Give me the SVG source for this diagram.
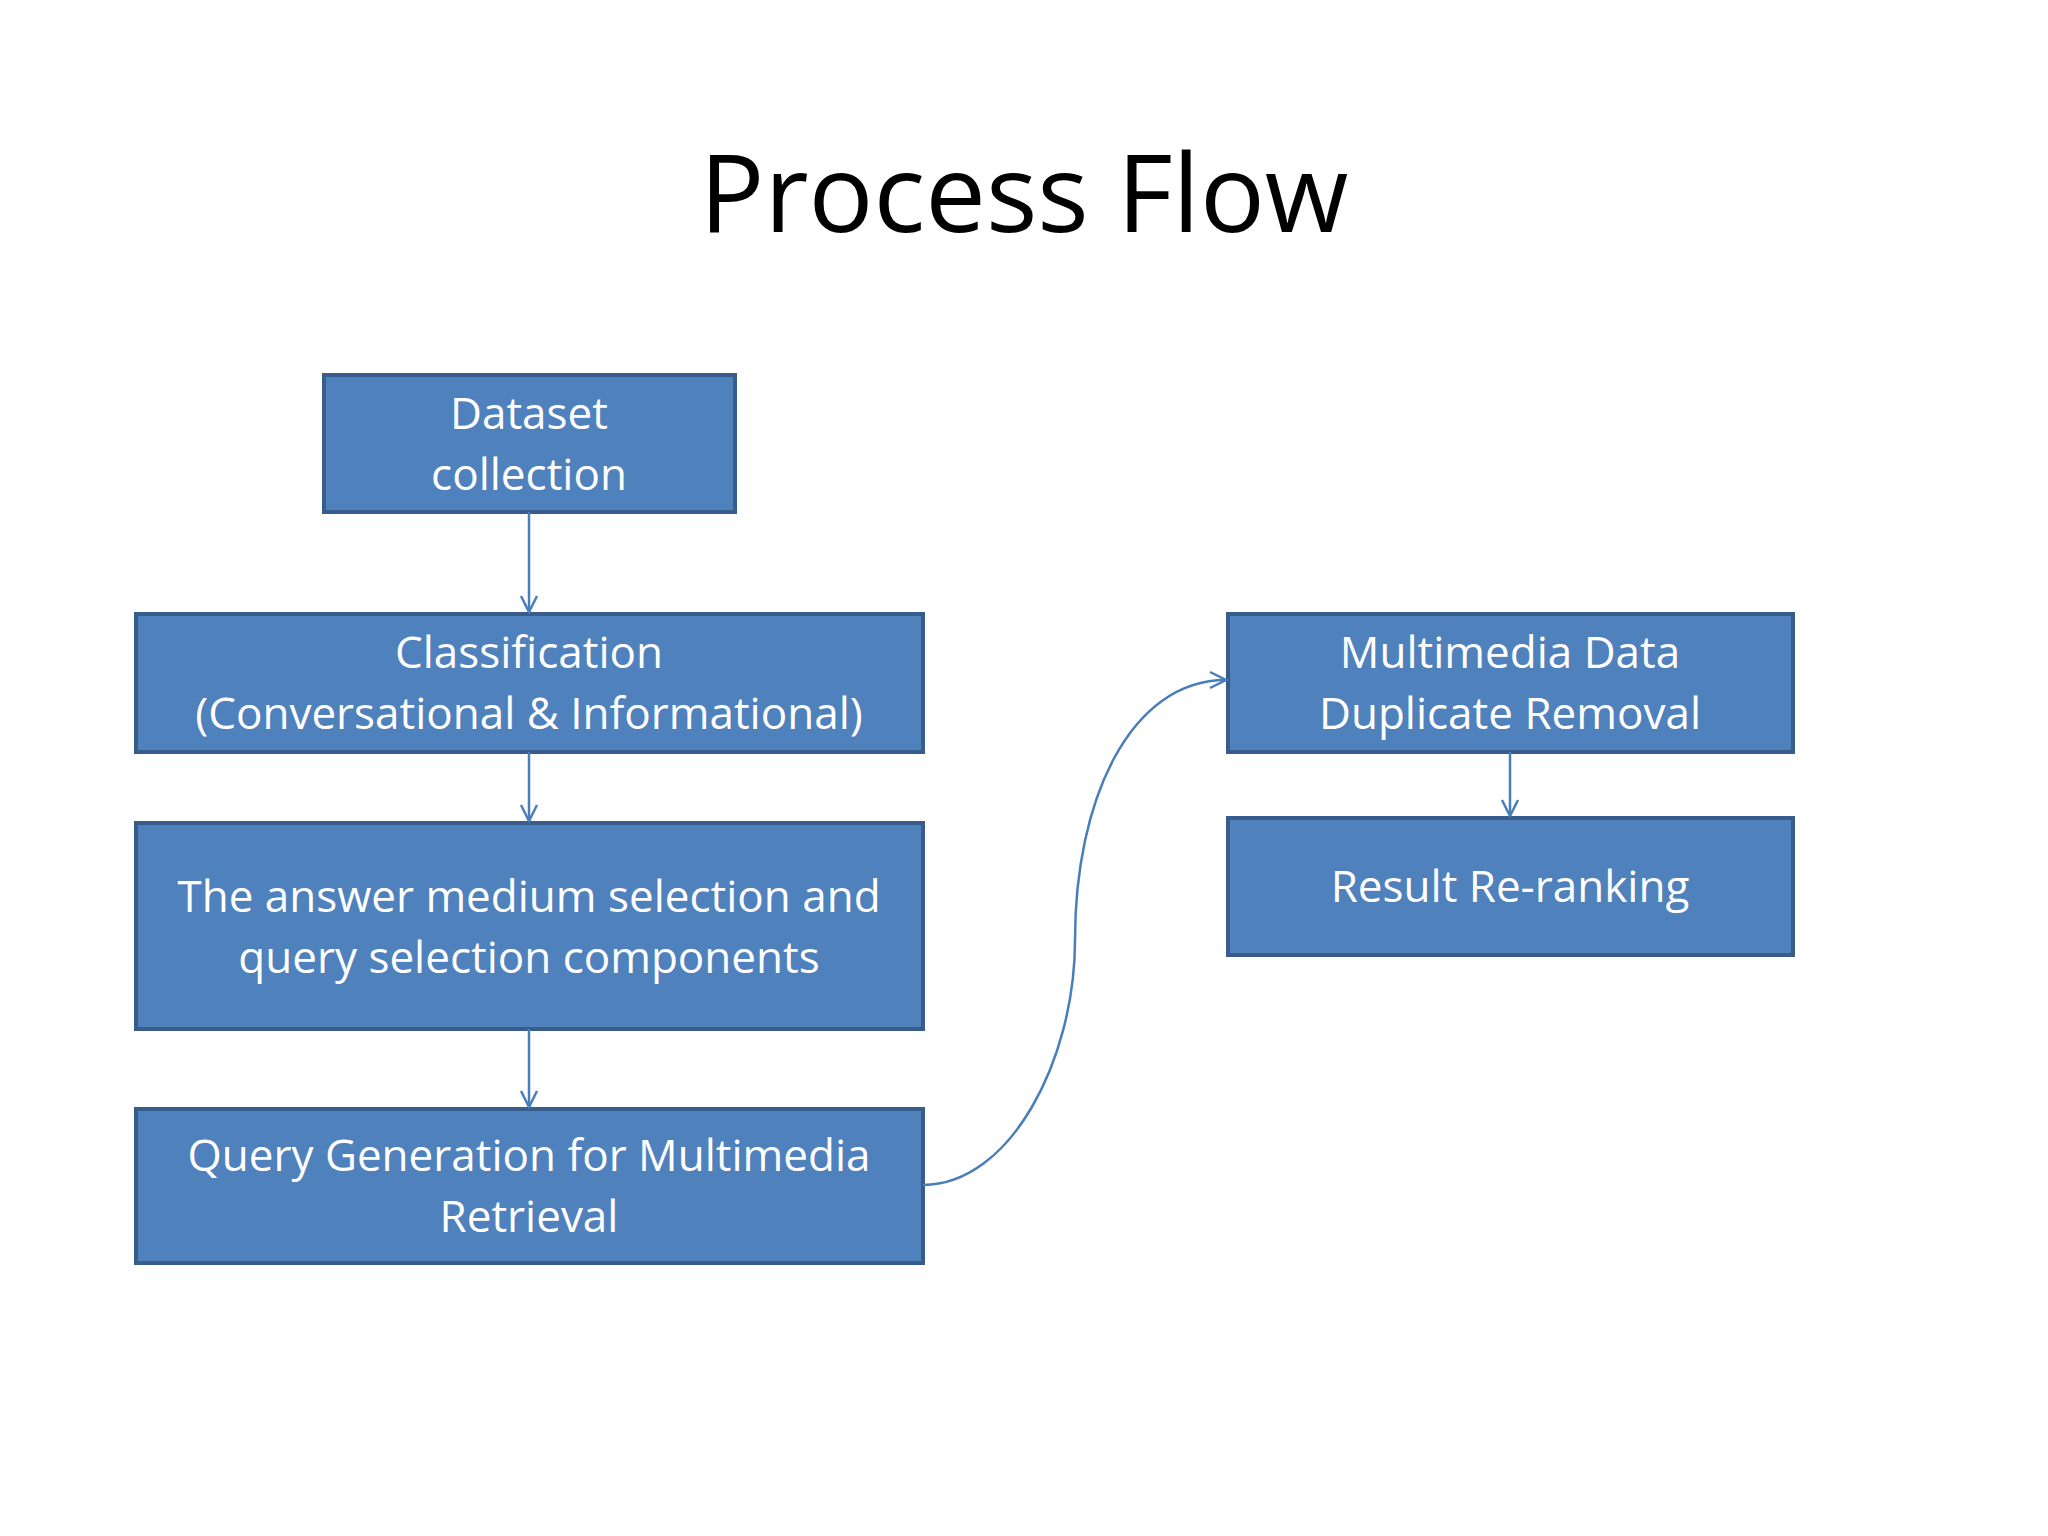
<svg xmlns="http://www.w3.org/2000/svg" width="2048" height="1536" viewBox="0 0 2048 1536">
<defs>
<style>
.box{fill:#4F81BD;stroke:#385D8A;stroke-width:4}
.t{fill:#fff;font-family:"Open Sans","Noto Sans",sans-serif;font-size:44px;text-anchor:middle}
.c{fill:none;stroke:#4A7EBB;stroke-width:2.5}
</style>
<marker id="a" viewBox="0 0 20 20" refX="18" refY="10" markerWidth="20" markerHeight="20" markerUnits="userSpaceOnUse" orient="auto">
<path d="M2,2 L18,10 L2,18" fill="none" stroke="#4A7EBB" stroke-width="2.5"/>
</marker>
</defs>
<rect width="2048" height="1536" fill="#fff"/>
<text x="1024" y="232" font-family="'Open Sans','Noto Sans',sans-serif" font-size="108" text-anchor="middle" fill="#000">Process Flow</text>
<g id="n1"><rect class="box" x="324" y="375" width="411" height="137"/><text class="t" x="529" y="429">Dataset</text><text class="t" x="529" y="490">collection</text></g>
<g id="n2"><rect class="box" x="136" y="614" width="787" height="138"/><text class="t" x="529" y="668">Classification</text><text class="t" x="529" y="729">(Conversational &amp; Informational)</text></g>
<g id="n3"><rect class="box" x="136" y="823" width="787" height="206"/><text class="t" x="529" y="912">The answer medium selection and</text><text class="t" x="529" y="973">query selection components</text></g>
<g id="n4"><rect class="box" x="136" y="1109" width="787" height="154"/><text class="t" x="529" y="1171">Query Generation for Multimedia</text><text class="t" x="529" y="1232">Retrieval</text></g>
<g id="n5"><rect class="box" x="1228" y="614" width="565" height="138"/><text class="t" x="1510" y="668">Multimedia Data</text><text class="t" x="1510" y="729">Duplicate Removal</text></g>
<g id="n6"><rect class="box" x="1228" y="818" width="565" height="137"/><text class="t" x="1510" y="902">Result Re-ranking</text></g>
<g id="connectors">
<path class="c" d="M529,512 V612" marker-end="url(#a)"/>
<path class="c" d="M529,752 V821" marker-end="url(#a)"/>
<path class="c" d="M529,1029 V1107" marker-end="url(#a)"/>
<path class="c" d="M1510,752 V816" marker-end="url(#a)"/>
<path class="c" d="M923,1185 C1010,1185 1075,1060 1075,940 C1075,800 1130,680 1226,680" marker-end="url(#a)"/>
</g>
</svg>
